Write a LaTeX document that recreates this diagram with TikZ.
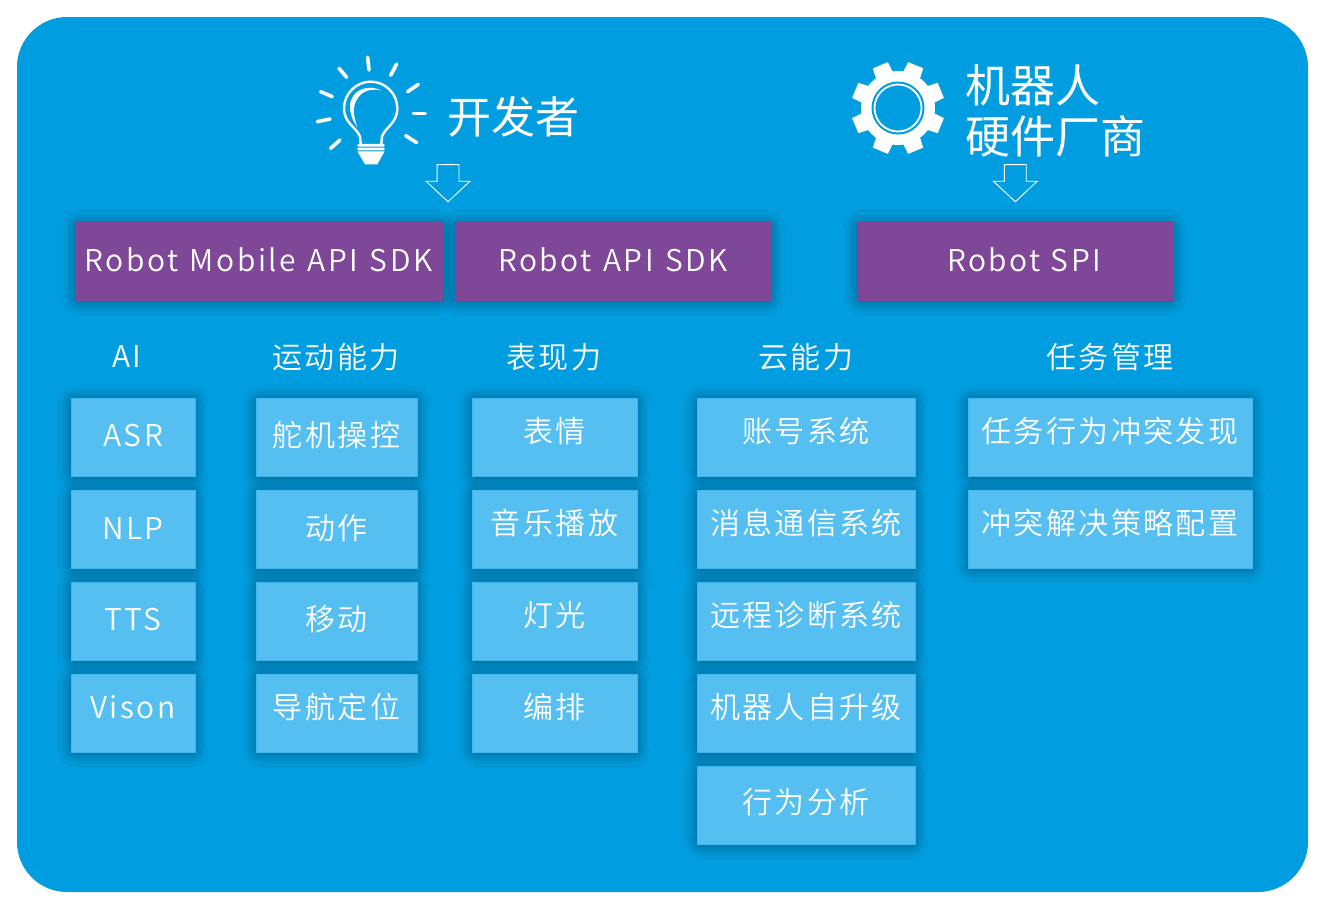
\documentclass[tikz,border=0pt]{standalone}
\usepackage{fontspec}
\setmainfont{Noto Sans CJK SC DemiLight}[LetterSpace=8]
\newfontfamily\latfont{Noto Sans CJK SC DemiLight}[LetterSpace=8.5,WordSpace=1.25]
\newfontfamily\headfont{Noto Sans CJK SC}
\usetikzlibrary{shapes.arrows,shadows.blur}
\definecolor{skyblue}{RGB}{0,158,224}
\definecolor{lightblue}{RGB}{85,191,242}
\definecolor{robotpurple}{RGB}{127,71,152}
\newcommand{\up}[1]{\raisebox{4.5pt}[0pt][0pt]{#1}}
\tikzset{
	softshadow/.style={blur shadow={shadow xshift=0pt,shadow yshift=-1pt,shadow blur radius=13pt,shadow opacity=42,shadow blur steps=24,shadow blur extra rounding=4pt}},
	box/.style={fill=lightblue,draw=lightblue!75!skyblue,line width=0.5pt,text=white,font=\fontsize{30}{32}\selectfont,inner sep=0,minimum height=78,text height=22,text depth=3,softshadow},
	sdk/.style={box,fill=robotpurple,draw=robotpurple,font=\latfont\fontsize{30}{32}\selectfont},
	lat/.style={box,font=\latfont\fontsize{30}{32}\selectfont},
	title/.style={text=white,font=\fontsize{30}{32}\selectfont,inner sep=0},
	head/.style={text=white,font=\headfont\fontsize{44}{52}\selectfont,inner sep=0,align=left,anchor=west},
	ai/.style={lat,minimum width=123.5},
	mov/.style={box,minimum width=160.5},
	show/.style={box,minimum width=164.5},
	cld/.style={box,minimum width=217.5},
	task/.style={box,minimum width=283.5},
	downarrow/.style={draw=white,line width=0.9pt,fill=skyblue,shape=single arrow,shape border rotate=270,inner sep=10.5pt,minimum width=43,minimum height=37,single arrow head extend=11,single arrow tip angle=94,single arrow head indent=0,anchor=tip},
	ray/.style={line width=3.6pt,white,line cap=round}
}
\begin{document}
\begin{tikzpicture}[x=1pt,y=-1pt]
	\useasboundingbox (0,0) rectangle (1325,910);
	\fill[white] (0,0) rectangle (1325,910);
	\fill[skyblue,rounded corners=50] (17,17) rectangle (1308,892);

	\begin{scope}[shift={(300,40)},x=0.3333pt,y=-0.3333pt]
		\draw[ray] (203,52) -- (207,90);
		\draw[ray] (117,85) -- (140,112);
		\draw[ray] (290,72) -- (272,106);
		\draw[ray] (355,133) -- (323,155);
		\draw[ray] (376,220) -- (340,220);
		\draw[ray] (350,308) -- (317,287);
		\draw[ray] (92,325) -- (120,300);
		\draw[ray] (52,245) -- (90,237);
		\draw[ray] (62,155) -- (97,170);
		\draw[white,line width=2.4pt,line join=round] (182,312) -- (180,290) .. controls (170,262) and (132,250) .. (132,205) .. controls (132,160) and (170,125) .. (212,125) .. controls (255,125) and (292,160) .. (292,205) .. controls (292,250) and (255,262) .. (246,290) -- (244,312);
		\fill[white] (245,152) .. controls (205,130) and (150,150) .. (150,200) .. controls (150,225) and (160,245) .. (172,262) .. controls (160,225) and (155,200) .. (175,172) .. controls (190,150) and (220,145) .. (245,152) -- cycle;
		\fill[white,rounded corners=1pt] (172,312) rectangle (254,320);
		\fill[white,rounded corners=1pt] (172,323) rectangle (254,331);
		\fill[white] (172,334) -- (254,334) -- (232,373) -- (195,373) -- cycle;
	\end{scope}

	\foreach \a in {22.5,67.5,...,337.5}
		\fill[white] ([shift={(\a-14:37)}]898,108) -- ([shift={(\a-10:47)}]898,108) -- ([shift={(\a+10:47)}]898,108) -- ([shift={(\a+14:37)}]898,108) -- cycle;
	\fill[white] (898,108) circle[radius=37];
	\fill[skyblue] (898,108) circle[radius=26.5];
	\draw[white,line width=1.8pt] (898,108) circle[radius=23.5];

	\node	(dev) at (447,117) [head] {开发者};
	\node	(ven) at (965,111) [head,font=\headfont\fontsize{45}{51}\selectfont] {机器人\\硬件厂商};
	\node	(da) at (448,202.3) [downarrow] {};
	\node	(va) at (1015.3,202.3) [downarrow] {};

	\node	(mob) at (258.5,261.5) [sdk,minimum width=367] {Robot Mobile API SDK};
	\node	(api) at (613,261.5) [sdk,minimum width=316] {Robot API SDK};
	\node	(spi) at (1015,261.5) [sdk,minimum width=316,text width=316,align=center] {\hspace*{18pt}Robot SPI};

	\node	(t1) at (127,357) [title,font=\latfont\fontsize{30}{32}\selectfont] {AI};
	\node	(t2) at (336,357) [title] {运动能力};
	\node	(t3) at (554,357) [title] {表现力};
	\node	(t4) at (806,357) [title] {云能力};
	\node	(t5) at (1110,357) [title] {任务管理};

	\node	(a1) at (133,437) [ai] {ASR};
	\node	(a2) at (133,529.5) [ai] {NLP};
	\node	(a3) at (133,621) [ai] {TTS};
	\node	(a4) at (133,713.5) [ai] {\up{Vison}};

	\node	(m1) at (336.5,437) [mov] {舵机操控};
	\node	(m2) at (336.5,529.5) [mov] {动作};
	\node	(m3) at (336.5,621) [mov] {移动};
	\node	(m4) at (336.5,713.5) [mov] {\up{导航定位}};

	\node	(s1) at (554.5,437) [show] {\up{表情}};
	\node	(s2) at (554.5,529.5) [show] {\up{音乐播放}};
	\node	(s3) at (554.5,621) [show] {\up{灯光}};
	\node	(s4) at (554.5,713.5) [show] {\up{编排}};

	\node	(c1) at (806,437) [cld] {\up{账号系统}};
	\node	(c2) at (806,529.5) [cld] {\up{消息通信系统}};
	\node	(c3) at (806,621) [cld] {\up{远程诊断系统}};
	\node	(c4) at (806,713.5) [cld] {\up{机器人自升级}};
	\node	(c5) at (806,805.5) [cld] {\raisebox{2pt}[0pt][0pt]{行为分析}};

	\node	(k1) at (1110,437) [task] {\up{任务行为冲突发现}};
	\node	(k2) at (1110,529.5) [task] {\up{冲突解决策略配置}};
\end{tikzpicture}
\end{document}
